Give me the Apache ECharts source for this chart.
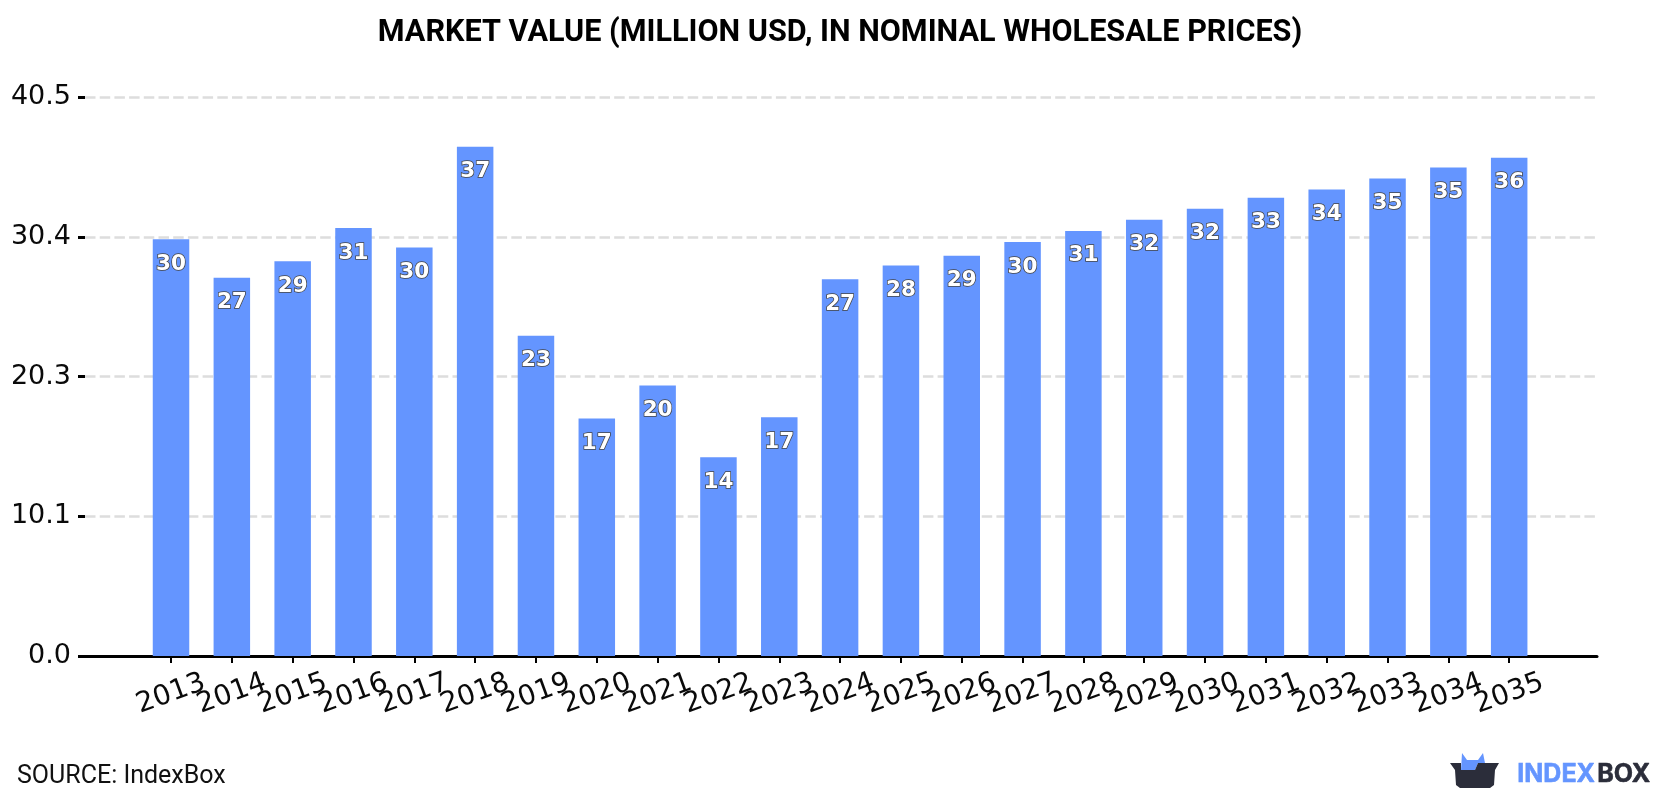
<!DOCTYPE html>
<html>
<head>
<meta charset="utf-8">
<style>html,body{margin:0;padding:0;background:#fff}#chart{width:1680px;height:800px}</style>
<script src="https://cdn.jsdelivr.net/npm/echarts@6/dist/echarts.min.js"></script>
</head>
<body>
<div id="chart"></div>
<script>
const categories = ['2013','2014','2015','2016','2017','2018','2019','2020','2021','2022','2023','2024','2025','2026','2027','2028','2029','2030','2031','2032','2033','2034','2035'];
const marketValue = [30.2,27.4,28.6,31.0,29.6,36.9,23.2,17.2,19.6,14.4,17.3,27.3,28.3,29.0,30.0,30.8,31.6,32.4,33.2,33.8,34.6,35.4,36.1];
const axisMax = 40.5;
const axisStep = 10.125;
const titleText = 'MARKET VALUE (MILLION USD, IN NOMINAL WHOLESALE PRICES)';
const sourceText = 'SOURCE: IndexBox';

const chart = echarts.init(document.getElementById('chart'), null, {renderer: 'canvas'});

chart.setOption({
  animation: false,
  backgroundColor: '#fff',
  title: {
    text: titleText, left: 835, top: 13, textAlign: 'center',
    textStyle: {fontFamily: 'Roboto', fontWeight: 'bold', fontSize: 30.6, color: '#000'}
  },
  grid: [
    // frame: gridlines and baseline span wider than the bars
    {left: 85, right: 83, top: 97, bottom: 144},
    // bars sit in an inset band
    {left: 140.6, width: 1399, top: 97, bottom: 144}
  ],
  xAxis: [
    {gridIndex: 0, type: 'value', min: 0, max: 1, show: true,
     axisLine: {show: true, lineStyle: {color: '#000', width: 3}},
     axisTick: {show: false}, axisLabel: {show: false}, splitLine: {show: false}},
    {gridIndex: 1, type: 'category', data: categories,
     axisLine: {show: false},
     axisTick: {show: true, alignWithLabel: true, length: 7, lineStyle: {color: '#000', width: 2}},
     axisLabel: {interval: 0, rotate: 20, align: 'center', verticalAlign: 'middle', margin: 38, fontFamily: 'DejaVu Sans', fontSize: 28, color: '#0a0a0a'}}
  ],
  yAxis: [
    {gridIndex: 0, type: 'value', min: 0, max: axisMax, interval: axisStep,
     axisLine: {show: false},
     axisTick: {show: true, length: 7, lineStyle: {color: '#000', width: 3}},
     axisLabel: {margin: 14, padding: [6, 0, 0, 0], fontFamily: 'DejaVu Sans', fontSize: 27, color: '#0a0a0a',
       formatter: v => v.toFixed(1)},
     splitLine: {show: true, lineStyle: {color: '#ddd', width: 2.5, type: [10.5, 4.2]}}},
    {gridIndex: 1, type: 'value', min: 0, max: axisMax, interval: axisStep, show: false}
  ],
  series: [{
    type: 'bar', xAxisIndex: 1, yAxisIndex: 1, data: marketValue, barWidth: 36.5,
    itemStyle: {color: '#6495ff'},
    label: {
      show: true, position: 'insideTop', distance: 14,
      formatter: p => String(Math.round(p.value)),
      fontFamily: 'DejaVu Sans', fontWeight: 'bold', fontSize: 21.5, color: '#fff',
      textBorderColor: '#444', textBorderWidth: 1.5
    }
  }],
  graphic: [
    {type: 'text', left: 17, top: 764, style: {text: sourceText, fontFamily: 'Roboto', fontSize: 25, fill: '#111'}},
    // IndexBox mark
    {type: 'polygon', shape: {points: [[1462,753],[1467,760],[1478,760],[1483,753],[1485,763],[1478,763],[1475,770],[1461,770]]}, style: {fill: '#6495ff'}},
    {type: 'polygon', shape: {points: [[1450,763],[1461,763],[1461,770],[1475,770],[1478,763],[1499,763],[1495,770],[1494,785],[1490,788],[1460,788],[1456,785],[1455,770]]}, style: {fill: '#2b2d3a'}},
    {type: 'text', left: 1517, top: 762, style: {text: 'INDEX', fontFamily: 'Inter', fontWeight: 'bold', fontSize: 25, fill: '#6495ff', stroke: '#6495ff', lineWidth: 0.6}},
    {type: 'text', left: 1597, top: 762, style: {text: 'BOX', fontFamily: 'Inter', fontWeight: 'bold', fontSize: 25, fill: '#2b2d3a', stroke: '#2b2d3a', lineWidth: 0.6}}
  ]
});
</script>
</body>
</html>
